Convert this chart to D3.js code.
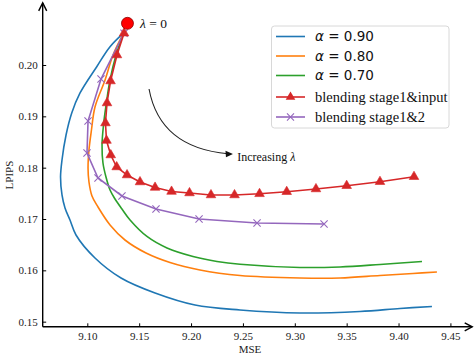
<!DOCTYPE html>
<html><head><meta charset="utf-8">
<script src="https://cdn.jsdelivr.net/npm/d3@7"></script>
<style>body{margin:0;background:#fff}svg{display:block}</style>
</head><body>
<svg id="c" width="474" height="355"></svg>
<script>
const xTicks = [9.10, 9.15, 9.20, 9.25, 9.30, 9.35, 9.40, 9.45];
const yTicks = [0.15, 0.16, 0.17, 0.18, 0.19, 0.20];
const legendLabels = ["α = 0.90", "α = 0.80", "α = 0.70", "blending stage1&input", "blending stage1&2"];
const colors = ["#1f77b4", "#ff7f0e", "#2ca02c", "#d62728", "#9467bd"];

const alpha090 = [[9.1349,0.2062],[9.1219,0.20356],[9.1091,0.19967],[9.0930,0.19455],[9.0850,0.19065],[9.0795,0.18636],[9.0756,0.18150],[9.0742,0.17818],[9.0756,0.17468],[9.0785,0.17215],[9.0833,0.16981],[9.0891,0.16689],[9.1074,0.16241],[9.1325,0.15851],[9.1653,0.15559],[9.2038,0.15325],[9.2472,0.15228],[9.3050,0.15169],[9.3628,0.15199],[9.4014,0.15257],[9.4322,0.15296]];
const alpha080 = [[9.1349,0.2062],[9.1248,0.20195],[9.1171,0.19708],[9.1074,0.19182],[9.1040,0.18734],[9.1016,0.18344],[9.1007,0.17994],[9.1016,0.17721],[9.1045,0.17448],[9.1103,0.17234],[9.1219,0.16883],[9.1363,0.16591],[9.1566,0.16338],[9.1797,0.16153],[9.2086,0.16007],[9.2472,0.15900],[9.3050,0.15851],[9.3436,0.15851],[9.3821,0.15900],[9.4139,0.15939],[9.4370,0.15968]];
const alpha070 = [[9.1349,0.2062],[9.1277,0.20195],[9.1219,0.19708],[9.1181,0.19221],[9.1156,0.18831],[9.1142,0.18442],[9.1151,0.18091],[9.1180,0.17818],[9.1219,0.17565],[9.1267,0.17390],[9.1334,0.17195],[9.1412,0.16981],[9.1575,0.16660],[9.1768,0.16436],[9.2019,0.16270],[9.2250,0.16173],[9.2472,0.16118],[9.3050,0.16056],[9.3436,0.16066],[9.3821,0.16114],[9.4226,0.16173]];
const blendInput = [[9.1354,0.2062],[9.1286,0.20195],[9.1224,0.19688],[9.1190,0.19260],[9.1175,0.18870],[9.1185,0.18529],[9.1226,0.18247],[9.1283,0.18013],[9.1383,0.17857],[9.1508,0.17721],[9.1653,0.17614],[9.1812,0.17536],[9.1985,0.17507],[9.2192,0.17468],[9.2419,0.17468],[9.2660,0.17491],[9.2922,0.17532],[9.3204,0.17585],[9.3500,0.17649],[9.3821,0.17727],[9.4149,0.17824]];
const blendStage12 = [[9.1354,0.2062],[9.1132,0.19727],[9.1007,0.18909],[9.0997,0.18286],[9.1103,0.17799],[9.1334,0.17448],[9.1662,0.17195],[9.2077,0.17000],[9.2636,0.16923],[9.3282,0.16903]];
const lambdaZero = [9.1387, 0.20812];
const arrowPts = [[9.1595,0.19533],[9.1700,0.18390],[9.2404,0.18266]];
const textIncreasing = [9.2445, 0.1813];

const svg = d3.select("#c");
const x = d3.scaleLinear().domain([9.057, 9.471]).range([42.7, 472.2]);
const y = d3.scaleLinear().domain([0.149, 0.2121]).range([326.8, 2.9]);
const serif = "'Liberation Serif','Times New Roman',serif";
const sans = "'DejaVu Sans',sans-serif";

// axes
const x0 = x(9.057), y0 = y(0.149);
const ax = svg.append("g").attr("stroke", "#000").attr("stroke-width", 1.4).attr("fill", "none");
ax.append("line").attr("x1", x0).attr("x2", x(9.471)).attr("y1", y0).attr("y2", y0);
ax.append("line").attr("x1", x0).attr("x2", x0).attr("y1", y0).attr("y2", y(0.2121));
ax.append("path").attr("d", `M${x(9.471)-7.5},${y0-4}L${x(9.471)},${y0}L${x(9.471)-7.5},${y0+4}`);
ax.append("path").attr("d", `M${x0-4},${y(0.2121)+8}L${x0},${y(0.2121)}L${x0+4},${y(0.2121)+8}`);

const xa = svg.append("g").attr("transform", `translate(0,${y0})`)
  .call(d3.axisBottom(x).tickValues(xTicks).tickFormat(d3.format(".2f")).tickSize(-3.5).tickPadding(5.5));
xa.select(".domain").remove();
xa.selectAll("line").attr("stroke", "#000").attr("stroke-width", 1);
xa.selectAll("text").attr("font-family", serif).attr("font-size", 11).attr("fill", "#222");
const ya = svg.append("g").attr("transform", `translate(${x0},0)`)
  .call(d3.axisLeft(y).tickValues(yTicks).tickFormat(d3.format(".2f")).tickSize(-3.5).tickPadding(5));
ya.select(".domain").remove();
ya.selectAll("line").attr("stroke", "#000").attr("stroke-width", 1);
ya.selectAll("text").attr("font-family", serif).attr("font-size", 11).attr("fill", "#222");

svg.append("text").attr("x", 250).attr("y", 352.5).attr("text-anchor", "middle")
  .attr("font-family", serif).attr("font-size", 11).attr("fill", "#222").text("MSE");
svg.append("text").attr("transform", "translate(13,175) rotate(-90)").attr("text-anchor", "middle")
  .attr("font-family", serif).attr("font-size", 11).attr("fill", "#222").text("LPIPS");

// curves
const smooth = d3.line().x(d => x(d[0])).y(d => y(d[1])).curve(d3.curveCatmullRom.alpha(0.5));
const straight = d3.line().x(d => x(d[0])).y(d => y(d[1]));
const series = [alpha090, alpha080, alpha070];
series.forEach((s, i) => {
  svg.append("path").attr("d", smooth(s)).attr("fill", "none").attr("stroke", colors[i]).attr("stroke-width", 1.6);
});
svg.append("path").attr("d", straight(blendStage12)).attr("fill", "none").attr("stroke", colors[4]).attr("stroke-width", 1.6);
svg.append("g").selectAll("path").data(blendStage12).join("path")
  .attr("d", d => { const cx = x(d[0]), cy = y(d[1]), r = 3.6; return `M${cx-r},${cy-r}L${cx+r},${cy+r}M${cx-r},${cy+r}L${cx+r},${cy-r}`; })
  .attr("stroke", colors[4]).attr("stroke-width", 1.1).attr("fill", "none");
svg.append("path").attr("d", straight(blendInput)).attr("fill", "none").attr("stroke", colors[3]).attr("stroke-width", 1.6);
const tri = d3.symbol().type(d3.symbolTriangle).size(40);
svg.append("g").selectAll("path").data(blendInput).join("path")
  .attr("transform", d => `translate(${x(d[0])},${y(d[1])})`).attr("d", tri())
  .attr("fill", colors[3]).attr("stroke", colors[3]).attr("stroke-width", 0.6);

// lambda = 0
svg.append("circle").attr("cx", x(lambdaZero[0])).attr("cy", y(lambdaZero[1])).attr("r", 6)
  .attr("fill", "#f00").attr("stroke", "#8b0000").attr("stroke-width", 0.8);
const lt = svg.append("text").attr("x", x(lambdaZero[0]) + 12.5).attr("y", y(lambdaZero[1]) + 4.5)
  .attr("font-family", serif).attr("font-size", 13.5).attr("fill", "#111");
lt.append("tspan").attr("font-style", "italic").text("λ");
lt.append("tspan").text(" = 0");

// increasing arrow
const a = arrowPts.map(p => [x(p[0]), y(p[1])]);
svg.append("path").attr("d", `M${a[0][0]},${a[0][1]}Q${a[1][0]},${a[1][1]} ${a[2][0]-5},${a[2][1]-0.3}`)
  .attr("fill", "none").attr("stroke", "#222").attr("stroke-width", 1.1);
svg.append("path").attr("d", `M${a[2][0]},${a[2][1]}L${a[2][0]-7.5},${a[2][1]-3.3}L${a[2][0]-7},${a[2][1]+3.2}Z`).attr("fill", "#111");
const it = svg.append("text").attr("x", x(textIncreasing[0])).attr("y", y(textIncreasing[1]))
  .attr("font-family", serif).attr("font-size", 12).attr("fill", "#111");
it.append("tspan").text("Increasing ");
it.append("tspan").attr("font-style", "italic").text("λ");

// legend
const lg = svg.append("g");
lg.append("rect").attr("x", 271.5).attr("y", 26).attr("width", 177.5).attr("height", 102).attr("rx", 3)
  .attr("fill", "#fff").attr("fill-opacity", 0.85).attr("stroke", "#d8d8d8").attr("stroke-width", 1);
const rowY = [36.5, 56, 75.5, 97, 117];
legendLabels.forEach((lab, i) => {
  const g = lg.append("g").attr("transform", `translate(0,${rowY[i]})`);
  g.append("line").attr("x1", 276).attr("x2", 305).attr("stroke", colors[i]).attr("stroke-width", 1.6);
  if (i === 3) g.append("path").attr("transform", "translate(290.5,0)").attr("d", tri()).attr("fill", colors[3]);
  if (i === 4) g.append("path").attr("d", "M287,-3.6L294,3.6M287,3.6L294,-3.6").attr("stroke", colors[4]).attr("stroke-width", 1.1);
  const t = g.append("text").attr("x", 315).attr("y", 4.5).attr("fill", "#111");
  if (i < 3) {
    t.attr("font-family", sans).attr("font-size", 13.5);
    t.append("tspan").attr("font-style", "italic").text(lab.slice(0, 1));
    t.append("tspan").text(lab.slice(1));
  } else {
    t.attr("font-family", serif).attr("font-size", 14.5).text(lab);
  }
});
</script>
</body></html>
